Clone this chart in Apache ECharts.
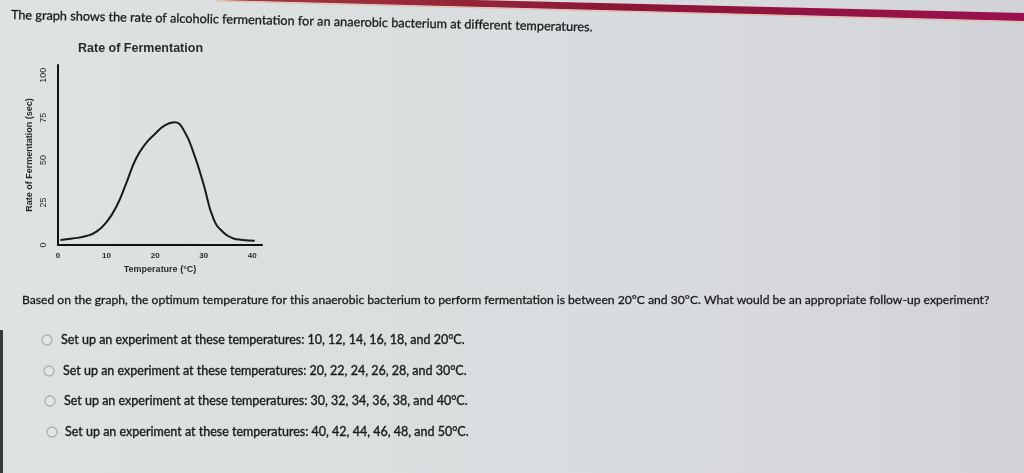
<!DOCTYPE html>
<html>
<head>
<meta charset="utf-8">
<script src="https://cdn.jsdelivr.net/npm/echarts@6/dist/echarts.min.js"></script>
<style>
  html, body { margin: 0; padding: 0; }
  #chart { width: 1024px; height: 473px; }
</style>
</head>
<body>
<div id="chart"></div>
<script>
// ---- data ----
const temperatures = [0.5, 3, 6, 8, 10, 12, 14, 16, 18, 20, 22, 24, 26, 28, 30, 32, 34, 36, 38, 40.5];
const rates        = [3, 3.8, 5.4, 8, 13.5, 22.5, 36, 50.5, 59.5, 65.5, 70.5, 72.3, 67, 53.5, 35.5, 15.5, 7.5, 4, 3, 2.5];
const xTicks = [0, 10, 20, 30, 40];
const yTicks = [0, 25, 50, 75, 100];

const headerText = 'The graph shows the rate of alcoholic fermentation for an anaerobic bacterium at different temperatures.';
const chartTitle = 'Rate of Fermentation';
const xName = 'Temperature (°C)';
const yName = 'Rate of Fermentation (sec)';
const questionText = 'Based on the graph, the optimum temperature for this anaerobic bacterium to perform fermentation is between 20°C and 30°C. What would be an appropriate follow-up experiment?';
const options = [
  'Set up an experiment at these temperatures: 10, 12, 14, 16, 18, and 20°C.',
  'Set up an experiment at these temperatures: 20, 22, 24, 26, 28, and 30°C.',
  'Set up an experiment at these temperatures: 30, 32, 34, 36, 38, and 40°C.',
  'Set up an experiment at these temperatures: 40, 42, 44, 46, 48, and 50°C.'
];

// ---- layout ----
const optionPos = [[47, 340, 61], [49, 371, 63], [50, 401, 64], [52, 432, 65]];

const chart = echarts.init(document.getElementById('chart'));
const pairs = temperatures.map((t, i) => [t, rates[i]]);

const ink = '#1a1a1a';
const graphics = [
  { type: 'rect', z: -10, silent: true, shape: { x: 0, y: 0, width: 1024, height: 473 },
    style: { fill: new echarts.graphic.LinearGradient(0, 0, 1, 0, [
      { offset: 0, color: '#dfe2e2' }, { offset: 0.6, color: '#d9dcde' }, { offset: 1, color: '#d2d3d8' }]) } },
  { type: 'rect', z: -9, silent: true, shape: { x: 0, y: 330, width: 3, height: 143 }, style: { fill: '#3a3a3a' } },
  { type: 'polygon', z: -5, silent: true, shape: { points: [[215, 0], [1024, 21], [1024, 13], [473, 0]] },
    style: { fill: new echarts.graphic.LinearGradient(0, 0, 1, 0, [
      { offset: 0, color: '#a33a40' }, { offset: 0.5, color: '#8c1634' }, { offset: 1, color: '#9a1050' }]) } },
  { type: 'polyline', z: -5, silent: true, shape: { points: [[215, 1], [1024, 22]] },
    style: { stroke: '#e9b7a4', lineWidth: 1 } },
  { type: 'text', x: 11, y: 15, rotation: -0.021,
    style: { text: headerText, font: '12.7px Lato', fill: ink, stroke: ink, lineWidth: 0.3, textVerticalAlign: 'middle' } },
  { type: 'text', x: 22, y: 300,
    style: { text: questionText, font: '12.15px Lato', fill: ink, stroke: ink, lineWidth: 0.3, textVerticalAlign: 'middle' } }
];
options.forEach((txt, i) => {
  const p = optionPos[i];
  graphics.push({ type: 'circle', shape: { cx: p[0], cy: p[1], r: 5 },
    style: { fill: '#e4e6e6', stroke: '#aeb0b1', lineWidth: 1.3 } });
  graphics.push({ type: 'text', x: p[2], y: p[1],
    style: { text: txt, font: '12.5px Lato', fill: ink, stroke: ink, lineWidth: 0.35, textVerticalAlign: 'middle' } });
});

chart.setOption({
  animation: false,
  backgroundColor: 'transparent',
  title: {
    text: chartTitle, left: 73, top: 37,
    textStyle: { fontFamily: 'Liberation Sans', fontWeight: 'bold', fontSize: 12.5, color: '#2a2a2a' }
  },
  grid: { left: 58, top: 65, width: 204, height: 180 },
  xAxis: {
    type: 'value', min: 0, max: 42, interval: 10,
    name: xName, nameLocation: 'middle', nameGap: 20,
    nameTextStyle: { fontFamily: 'Liberation Sans', fontWeight: 'bold', fontSize: 9, color: '#2a2a2a' },
    axisLine: { show: true, lineStyle: { color: '#111', width: 2 } },
    axisTick: { show: false },
    splitLine: { show: false },
    axisLabel: { showMaxLabel: false, margin: 7, fontFamily: 'Liberation Sans', fontWeight: 'bold', fontSize: 8, color: '#2a2a2a',
      formatter: v => (xTicks.includes(v) ? String(v) : '') }
  },
  yAxis: {
    type: 'value', min: 0, max: 106, interval: 25,
    name: yName, nameLocation: 'middle', nameGap: 24, nameRotate: 90,
    nameTextStyle: { fontFamily: 'Liberation Sans', fontWeight: 'bold', fontSize: 9, color: '#2a2a2a' },
    axisLine: { show: true, lineStyle: { color: '#111', width: 2 } },
    axisTick: { show: false },
    splitLine: { show: false },
    axisLabel: { showMaxLabel: false, rotate: 90, margin: 10, fontFamily: 'Liberation Sans', fontSize: 9, color: '#2a2a2a',
      formatter: v => (yTicks.includes(v) ? String(v) : '') }
  },
  series: [{
    type: 'line', data: pairs, smooth: 0.5, symbol: 'none',
    lineStyle: { color: '#1a1a1a', width: 2 }
  }],
  graphic: graphics
});
</script>
</body>
</html>
